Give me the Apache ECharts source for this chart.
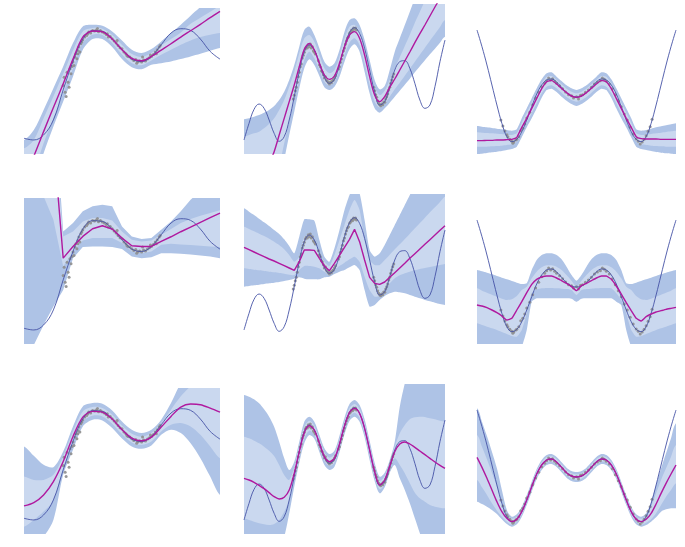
<!DOCTYPE html>
<html><head><meta charset="utf-8">
<script src="https://cdn.jsdelivr.net/npm/echarts/dist/echarts.min.js"></script>
<style>html,body{margin:0;padding:0;background:#fff}#c{width:685px;height:547px}</style>
</head><body><div id="c"></div><script>
// x sample grids (0..20 domain)
const X21 = [0,1,2,3,4,5,6,7,8,9,10,11,12,13,14,15,16,17,18,19,20];
const X41 = [0,0.5,1,1.5,2,2.5,3,3.5,4,4.5,5,5.5,6,6.5,7,7.5,8,8.5,9,9.5,10,10.5,11,11.5,12,12.5,13,13.5,14,14.5,15,15.5,16,16.5,17,17.5,18,18.5,19,19.5,20];
// y values are "depth" units (axis inverted)
const TRUE1 = [415,420,405,360,270,185,118,93,95,118,150,178,185,170,135,100,87,92,118,155,178];
const TRUE2 = [420,370,328,312,325,360,400,424,410,360,290,215,155,135,150,190,232,250,238,195,140,98,83,100,145,210,275,315,305,260,210,185,182,205,250,300,325,315,260,185,120];
const TRUE3 = [90,140,195,255,315,370,410,425,418,395,360,320,282,255,240,237,246,262,278,288,291,288,278,262,246,237,240,255,282,320,360,395,418,425,410,370,315,255,195,140,90];

const PTS1 = [[4.0,257],[4.1,232],[4.2,277],[4.3,290],[4.4,217],[4.5,247],[4.6,262],[4.7,207],[4.8,222],[4.9,200],[5.0,187],[5.1,197],[5.2,172],[5.3,162],[5.4,177],[5.5,152],[5.6,142],[5.7,157],[5.8,132],[5.9,127],[6.0,120],[6.2,112],[6.4,107],[6.6,97],[6.8,100],[7.0,92],[7.2,94],[7.4,90],[7.6,96],[7.8,92],[8.0,97],[8.2,100],[8.4,104],[8.6,112],[8.8,110],[9.0,117],[9.2,124],[9.4,130],[9.6,137],[9.8,144],[10.0,147],[10.2,157],[10.4,162],[10.6,170],[10.8,172],[11.0,177],[11.2,182],[11.4,179],[11.6,186],[11.8,184],[12.0,187],[12.2,181],[12.4,184],[12.6,178],[12.8,174],[13.0,170],[13.2,164],[13.4,157],[13.6,150],[13.8,142],[13.9,137],[12.1,172],[12.9,166],[11.5,190],[10.5,167],[9.5,122],[8.5,102],[7.5,86],[6.5,102],[5.5,162],[13.5,162]];
const PTS2 = [[4.9,297],[5.0,286],[5.1,272],[5.2,262],[5.3,247],[5.4,230],[5.5,217],[5.6,200],[5.7,192],[5.8,174],[5.9,166],[6.0,157],[6.1,147],[6.2,142],[6.3,144],[6.4,134],[6.5,140],[6.6,132],[6.7,144],[6.8,140],[6.9,152],[7.0,157],[7.1,162],
[7.4,182],[7.5,194],[7.6,200],[7.7,212],[7.8,216],[7.9,224],[8.0,234],[8.1,230],[8.2,240],[8.3,244],[8.4,248],[8.5,252],[8.6,246],[8.7,248],[8.8,242],[8.9,240],[9.0,234],[9.1,227],
[9.4,207],[9.5,200],[9.6,187],[9.7,177],[9.8,166],[9.9,152],[10.0,144],[10.1,132],[10.2,122],[10.3,114],[10.4,110],[10.5,100],[10.6,96],[10.7,90],[10.8,92],[10.9,84],[11.0,88],[11.1,84],[11.2,90],
[12.9,262],[13.0,272],[13.1,284],[13.2,292],[13.3,302],[13.4,310],[13.5,314],[13.6,317],[13.7,312],[13.8,314],[13.9,306],[14.0,307],[14.1,297],[14.2,290],[14.3,282],[14.4,270],[14.5,262],[14.6,250],[14.7,240],[14.8,230],[14.9,222]];
const PTS3 = [[2.4,360],[2.6,378],[2.8,393],[3.0,404],[3.1,410],[3.3,418],[3.5,424],[3.6,430],[3.7,426],[3.9,420],[4.0,418],[4.2,410],[4.4,392],[4.6,385],[4.8,372],[5.0,354],[5.3,337],[5.6,314],[5.9,294],[6.2,277],[6.5,260],[6.8,250],[7.0,242],[7.2,234],[7.4,240],[7.6,236],[7.8,244],[8.0,250],[8.3,257],[8.6,266],[8.9,276],[9.2,284],[9.5,287],[9.7,294],[10.0,290],[10.2,297],[10.4,286],[10.6,284],[10.9,277],[11.2,270],[11.5,262],[11.8,252],[12.1,246],[12.4,242],[12.6,234],[12.8,238],[13.0,244],[13.3,252],[13.6,266],[13.9,284],[14.2,302],[14.5,320],[14.8,342],[15.1,360],[15.4,382],[15.7,402],[16.0,417],[16.2,424],[16.4,432],[16.6,426],[16.8,418],[17.0,407],[17.2,394],[17.4,380],[17.6,358]];

// panel 1
const P1_MEAN = [541,469,395,323,252,178,112,94,96,118,150,176,183,170,151,132,112,93,74,54,35];
const P1_HI2 = [420,390,330,265,200,130,80,75,78,95,122,150,160,148,125,100,75,48,22,0,-20];
const P1_HI1 = [445,420,355,290,222,152,95,85,87,106,136,163,172,160,138,118,98,72,54,36,20];
const P1_LO1 = [600,520,430,355,280,205,130,105,106,130,164,190,196,182,165,150,135,122,112,105,100];
const P1_LO2 = [620,550,460,380,305,230,150,118,118,142,178,202,208,195,190,185,178,170,162,153,145];
// panel 2
const P2_MEAN = [700,650,600,560,520,490,455,405,355,305,255,200,148,130,150,190,225,238,228,190,140,105,95,115,165,230,285,305,290,262,237,210,183,156,128,101,75,48,21,-5,-32];
const P2_HI2 = [358,355,350,345,338,330,318,300,275,240,195,140,90,80,105,145,185,200,190,150,95,60,55,75,120,180,240,268,258,210,155,115,75,35,-5,-45,-85,-125,-165,-205,-245];
const P2_HI1 = [410,405,400,395,385,372,355,330,300,260,215,160,115,105,125,165,205,220,210,170,115,80,75,95,140,205,262,285,272,240,205,172,138,104,68,35,2,-32,-66,-100,-134];
const P2_LO1 = [800,760,720,680,640,600,555,500,430,365,300,240,180,155,175,210,245,256,245,212,165,128,115,135,190,255,305,322,310,290,268,248,227,206,185,164,143,122,102,81,60];
const P2_LO2 = [900,860,820,780,740,690,630,560,480,405,335,265,205,178,195,228,262,270,260,230,185,148,133,155,215,280,325,338,325,308,290,272,254,236,217,199,181,163,146,128,110];
// panel 3
const P3_MEAN = [422,422,421,421,420,420,419,418,412,382,355,325,295,266,245,241,252,265,278,288,292,288,278,265,252,241,245,266,295,325,355,382,410,416,417,417,417,418,418,418,418];
const P3_HI2 = [378,380,382,384,386,388,390,392,388,355,325,295,265,238,220,217,230,243,256,265,270,265,256,243,230,217,220,238,265,295,325,355,388,392,390,386,382,379,376,373,370];
const P3_HI1 = [397,398,399,400,401,402,404,405,400,368,338,308,278,250,230,228,240,253,266,275,280,275,266,253,240,228,230,250,278,308,338,368,400,405,404,402,400,398,396,394,392];
const P3_LO1 = [440,440,440,439,438,437,435,433,425,398,368,340,310,280,260,256,265,278,291,300,305,300,291,278,265,256,260,280,310,340,368,398,425,433,435,437,438,439,440,440,440];
const P3_LO2 = [462,461,459,457,455,453,450,447,440,412,382,355,325,293,270,266,276,290,302,312,318,312,302,290,276,266,270,293,325,355,382,412,440,447,450,453,456,458,460,461,462];
// panel 4
const P4_MEAN = [-500,-400,-300,-150,205,170,140,117,108,118,145,168,170,170,155,141,126,112,98,84,70];
const P4_HI2 = [-300,-300,-300,-300,125,100,65,50,45,50,110,140,148,145,120,95,65,30,5,-15,-35];
const P4_HI1 = [-300,-300,-300,-200,140,125,95,85,85,92,125,150,155,152,135,118,100,88,78,70,62];
const P4_LO1 = [-100,-50,20,90,230,185,152,145,145,145,160,185,190,185,165,162,164,166,168,170,172];
const P4_LO2 = [700,465,405,350,300,205,172,170,170,172,178,200,205,202,190,190,192,194,197,200,205];
// panel 5
const P5_MEAN = [172,179,186,193,200,207,213,220,227,234,241,215,180,180,181,205,228,242,220,196,172,148,118,155,210,262,280,283,276,262,248,234,220,205,191,177,163,149,135,121,107];
const P5_HI2 = [55,65,75,86,97,108,120,132,148,168,190,140,88,88,92,150,200,215,175,120,60,15,-10,10,90,180,200,190,165,135,105,75,45,15,-15,-45,-75,-105,-135,-165,-195];
const P5_HI1 = [110,117,124,131,138,146,155,165,178,195,215,200,140,142,150,190,215,228,195,150,105,60,30,60,150,210,225,225,210,194,178,163,147,131,115,99,83,67,52,36,20];
const P5_LO1 = [235,237,239,241,243,245,247,249,251,254,255,240,228,228,230,235,245,252,240,228,218,208,200,215,260,300,320,318,300,280,265,256,250,245,241,237,234,231,228,225,222];
const P5_LO2 = [290,288,286,284,282,280,278,276,273,270,266,262,266,268,268,268,262,260,252,245,240,232,225,240,300,350,345,330,318,310,305,307,310,315,320,325,330,334,338,342,345];
// panel 6
const P6_MEAN = [345,348,353,360,368,378,390,385,360,335,308,283,268,261,258,258,264,272,280,290,302,287,280,272,264,258,258,268,288,312,338,362,385,393,380,372,366,362,358,355,352];
const P6_HI2 = [240,244,248,253,258,263,268,273,278,282,280,240,210,195,190,190,195,208,230,255,272,255,230,208,195,190,190,195,210,240,280,282,278,273,268,263,258,253,248,244,240];
const P6_HI1 = [295,302,308,314,320,326,330,328,318,300,290,265,245,232,226,226,230,240,255,272,290,272,255,240,230,226,226,232,245,265,290,300,318,328,330,326,320,314,308,302,295];
const P6_LO1 = [400,405,410,415,420,426,432,438,440,420,370,310,298,295,294,294,295,296,297,300,315,300,297,296,295,294,294,295,310,330,370,420,440,438,432,426,420,415,410,405,400];
const P6_LO2 = [480,485,490,495,500,505,505,500,490,470,420,335,325,325,325,325,325,325,325,326,335,326,325,325,325,325,325,325,335,345,420,470,490,500,505,505,500,495,490,485,480];
// panel 7
const P7_MEAN = [378,368,345,305,245,170,112,95,97,118,150,175,183,172,142,110,82,73,75,85,97];
const P7_HI2 = [200,228,255,262,215,140,80,70,72,92,125,150,160,150,120,70,10,-30,-60,-80,-100];
const P7_HI1 = [290,300,300,285,230,155,95,82,85,105,138,162,171,160,130,90,50,20,0,-15,-30];
const P7_LO1 = [440,420,395,360,265,190,125,108,110,132,163,188,195,185,155,135,130,140,165,200,235];
const P7_LO2 = [520,500,470,420,285,210,140,120,122,145,176,200,207,197,165,150,160,190,235,290,345];
// panel 8
const P8_MEAN = [295,300,307,316,326,338,350,357,352,330,280,215,158,137,150,190,230,245,235,192,138,97,85,100,145,210,275,315,300,258,215,192,186,192,202,213,224,235,246,256,265];
const P8_HI2 = [45,50,58,70,88,110,140,185,235,270,245,185,125,110,125,165,205,222,212,167,113,72,60,75,118,182,248,290,278,240,185,80,10,-50,-100,-150,-200,-250,-300,-350,-400];
const P8_HI1 = [170,175,182,190,200,212,228,255,285,300,262,200,140,122,137,177,217,233,223,179,125,84,72,87,131,196,262,302,288,250,200,160,135,118,112,110,111,115,118,122,125];
const P8_LO1 = [415,420,425,430,433,435,432,420,395,360,300,232,175,152,164,204,243,258,248,205,151,110,98,113,159,225,290,328,312,268,235,255,280,310,338,355,365,375,380,383,385];
const P8_LO2 = [500,505,510,515,520,520,515,500,470,400,320,248,190,165,176,216,255,270,260,217,163,122,110,125,172,240,303,340,322,278,255,295,330,370,415,460,505,550,590,630,670];
// panel 9
const P9_MEAN = [232,262,295,330,365,395,415,425,418,395,360,320,282,255,240,237,246,262,278,288,291,288,278,262,246,237,240,255,282,320,360,395,418,425,418,400,372,340,310,282,255];
const P9_HI2 = [85,125,168,215,265,330,390,410,403,380,345,305,267,240,225,222,231,247,263,273,276,273,263,247,231,222,225,240,267,305,345,380,403,410,400,365,315,265,220,175,130];
const P9_HI1 = [165,200,238,278,320,370,402,416,410,387,352,312,274,247,232,229,238,254,270,280,283,280,270,254,238,229,232,247,274,312,352,387,410,416,408,380,340,300,265,230,195];
const P9_LO1 = [300,322,345,370,392,410,425,434,426,403,368,328,290,263,248,245,254,270,286,296,299,296,286,270,254,245,248,263,290,328,368,403,426,434,428,418,400,375,350,330,310];
const P9_LO2 = [365,372,380,390,402,418,432,440,433,410,375,335,297,270,255,252,261,277,293,303,306,303,293,277,261,252,255,270,297,335,375,410,433,440,435,425,412,395,388,385,385];

const C_OUTER = '#aec3e6', C_INNER = '#cad8ef', C_TRUE = '#4552a6', C_MEAN = '#b0199f', C_PT = '#8e8e8e';

const panels = [
  {g:[24,8,196,146], top:25, X:X21, tr:TRUE1, pts:PTS1, m:P1_MEAN, h2:P1_HI2, h1:P1_HI1, l1:P1_LO1, l2:P1_LO2, sb:0.3, sm:0.3},
  {g:[244,4,201,150], top:12, X:X41, tr:TRUE2, pts:PTS2, m:P2_MEAN, h2:P2_HI2, h1:P2_HI1, l1:P2_LO1, l2:P2_LO2, sb:0.3, sm:0.3},
  {g:[477,4,199,150], top:12, X:X41, tr:TRUE3, pts:PTS3, m:P3_MEAN, h2:P3_HI2, h1:P3_HI1, l1:P3_LO1, l2:P3_LO2, sb:0.2, sm:0.1},
  {g:[24,198,196,146], top:25, X:X21, tr:TRUE1, pts:PTS1, m:P4_MEAN, h2:P4_HI2, h1:P4_HI1, l1:P4_LO1, l2:P4_LO2, sb:0, sm:0},
  {g:[244,194,201,150], top:12, X:X41, tr:TRUE2, pts:PTS2, m:P5_MEAN, h2:P5_HI2, h1:P5_HI1, l1:P5_LO1, l2:P5_LO2, sb:0.2, sm:0},
  {g:[477,194,199,150], top:12, X:X41, tr:TRUE3, pts:PTS3, m:P6_MEAN, h2:P6_HI2, h1:P6_HI1, l1:P6_LO1, l2:P6_LO2, sb:0.2, sm:0.1},
  {g:[24,388,196,146], top:25, X:X21, tr:TRUE1, pts:PTS1, m:P7_MEAN, h2:P7_HI2, h1:P7_HI1, l1:P7_LO1, l2:P7_LO2, sb:0.3, sm:0.3},
  {g:[244,384,201,150], top:12, X:X41, tr:TRUE2, pts:PTS2, m:P8_MEAN, h2:P8_HI2, h1:P8_HI1, l1:P8_LO1, l2:P8_LO2, sb:0.3, sm:0.3},
  {g:[477,384,199,150], top:12, X:X41, tr:TRUE3, pts:PTS3, m:P9_MEAN, h2:P9_HI2, h1:P9_HI1, l1:P9_LO1, l2:P9_LO2, sb:0.3, sm:0.3}
];

const grid = [], xAxis = [], yAxis = [], series = [];
panels.forEach((p, k) => {
  grid.push({left:p.g[0], top:p.g[1], width:p.g[2], height:p.g[3]});
  xAxis.push({type:'value', gridIndex:k, min:0, max:20, show:false});
  yAxis.push({type:'value', gridIndex:k, min:p.top, max:462, inverse:true, show:false});
  const band = (lo, hi, color) => {
    series.push({type:'custom', xAxisIndex:k, yAxisIndex:k, silent:true, data:[[10, 200]],
      renderItem: (params, api) => {
        const n = p.X.length;
        // edge points placed just outside the plot so polygon smoothing corners are clipped away
        const up = [api.coord([-1, hi[0]])].concat(p.X.map((x,i)=>api.coord([x, hi[i]])), [api.coord([21, hi[n-1]])]);
        const dn = [api.coord([-1, lo[0]])].concat(p.X.map((x,i)=>api.coord([x, lo[i]])), [api.coord([21, lo[n-1]])]).reverse();
        const cs = params.coordSys;
        return {type:'group',
          clipPath:{type:'rect', shape:{x:cs.x, y:cs.y, width:cs.width, height:cs.height}},
          children:[{type:'polygon', shape:{points:up.concat(dn), smooth:p.sb}, style:{fill:color, stroke:null}}]};
      }});
  };
  band(p.l2, p.h2, C_OUTER);
  band(p.l1, p.h1, C_INNER);
  series.push({type:'scatter', xAxisIndex:k, yAxisIndex:k, symbolSize:3, silent:true,
    itemStyle:{color:C_PT, opacity:0.9}, data:p.pts});
  series.push({type:'line', xAxisIndex:k, yAxisIndex:k, symbol:'none', silent:true, smooth:0.4,
    lineStyle:{color:C_TRUE, width:0.9}, data:p.X.map((x,i)=>[x, p.tr[i]])});
  series.push({type:'line', xAxisIndex:k, yAxisIndex:k, symbol:'none', silent:true, smooth:p.sm,
    lineStyle:{color:C_MEAN, width:1.4}, data:p.X.map((x,i)=>[x, p.m[i]])});
});

const chart = echarts.init(document.getElementById('c'), null, {renderer:'canvas'});
chart.setOption({animation:false, backgroundColor:'#ffffff', grid, xAxis, yAxis, series});
</script></body></html>
